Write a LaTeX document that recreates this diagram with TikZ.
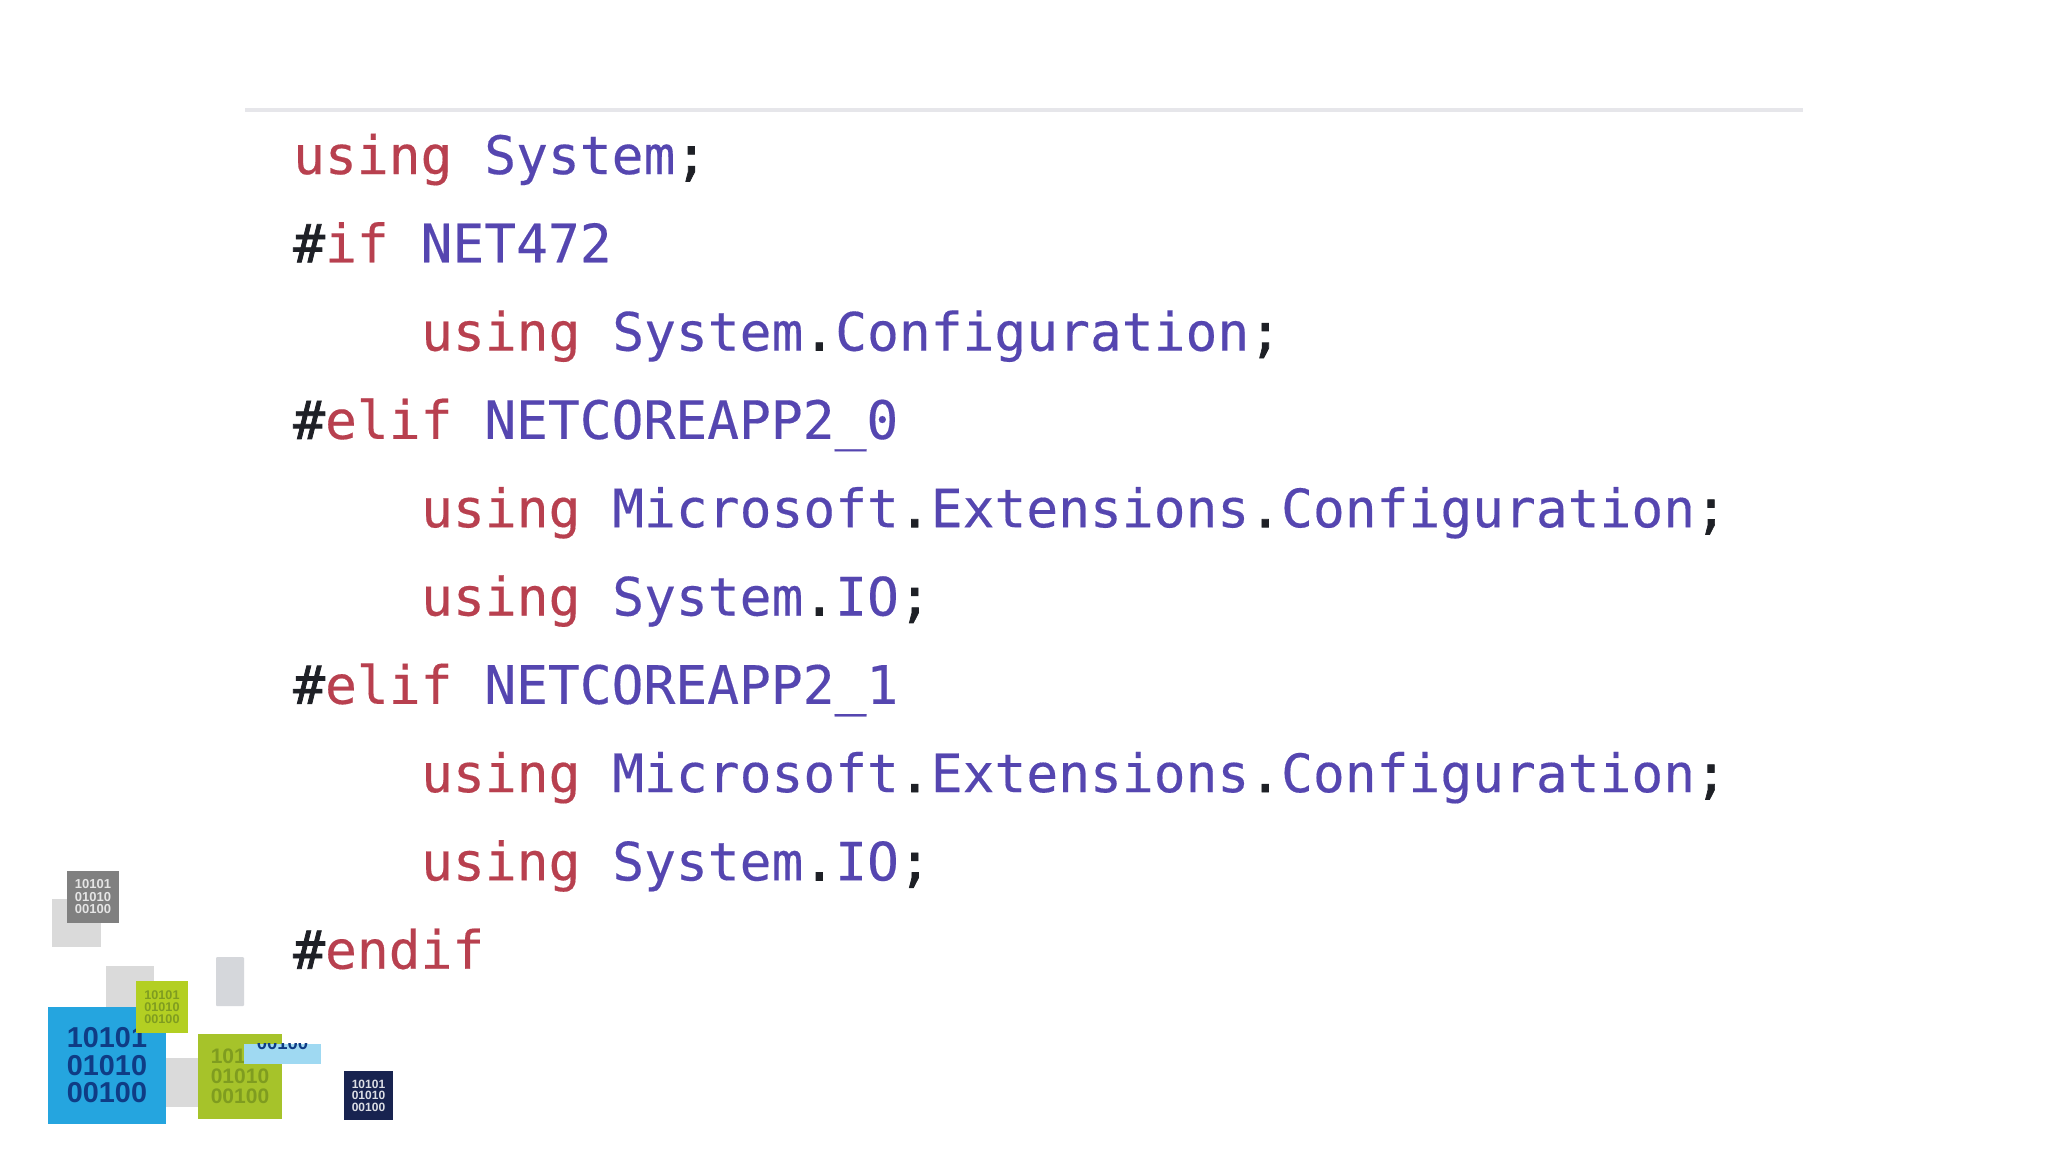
\documentclass[tikz,border=0pt]{standalone}
\usepackage{fontspec}
\setmonofont{DejaVu Sans Mono}[FakeBold=0.3]
\newfontfamily\punctfont{DejaVu Sans Mono}[FakeBold=1.4]
\setsansfont{Liberation Sans}
\usepackage{xcolor}

\definecolor{kwred}{HTML}{B8404F}
\definecolor{idblue}{HTML}{5546B0}
\definecolor{punct}{HTML}{1E2026}
\definecolor{rulegray}{HTML}{E6E6EA}
\definecolor{tilegray}{HTML}{DADADA}
\definecolor{tilecool}{HTML}{D5D7DB}
\definecolor{tiledark}{HTML}{808080}
\definecolor{tilelime}{HTML}{B3CF22}
\definecolor{tilegreen}{HTML}{A6C32A}
\definecolor{tileblue}{HTML}{25A5DF}
\definecolor{tilesky}{HTML}{9FD9F2}
\definecolor{tilenavy}{HTML}{182350}
\definecolor{digitnavy}{HTML}{0F3C85}
\definecolor{digitolive}{HTML}{7F9C20}

\newcommand{\kw}[1]{\textcolor{kwred}{#1}}
\newcommand{\id}[1]{\textcolor{idblue}{#1}}
\newcommand{\pn}[1]{{\punctfont #1}}
\newcommand{\bits}{10101\\01010\\00100}

\begin{document}
\begin{tikzpicture}[x=1pt,y=-1pt]
	
	\tikzstyle{codeline} = [anchor=base west,inner sep=0pt,text=punct,font=\fontsize{52.9}{60}\ttfamily]
	\tikzstyle{tile} = [rectangle,inner sep=0pt,align=center,minimum width=#1]
	\tikzstyle{blank} = [rectangle,inner sep=0pt]
	
	\useasboundingbox (0,0) rectangle (2048,1152);
	\fill[white] (0,0) rectangle (2048,1152);
	
	\coordinate (ruleL) at (245,110);
	\coordinate (ruleR) at (1803,110);
	\draw[rulegray,line width=3.5pt] (ruleL) -- (ruleR);
	
	\node[codeline] (l1) at (293,174) {\kw{using} \id{System}\pn{;}};
	\node[codeline] (l2) at (293,262.3) {\pn{\#}\kw{if} \id{NET472}};
	\node[codeline] (l3) at (421,350.6) {\kw{using} \id{System}\pn{.}\id{Configuration}\pn{;}};
	\node[codeline] (l4) at (293,438.9) {\pn{\#}\kw{elif} \id{NETCOREAPP2\_0}};
	\node[codeline] (l5) at (421,527.2) {\kw{using} \id{Microsoft}\pn{.}\id{Extensions}\pn{.}\id{Configuration}\pn{;}};
	\node[codeline] (l6) at (421,615.5) {\kw{using} \id{System}\pn{.}\id{IO}\pn{;}};
	\node[codeline] (l7) at (293,703.8) {\pn{\#}\kw{elif} \id{NETCOREAPP2\_1}};
	\node[codeline] (l8) at (421,792.1) {\kw{using} \id{Microsoft}\pn{.}\id{Extensions}\pn{.}\id{Configuration}\pn{;}};
	\node[codeline] (l9) at (421,880.4) {\kw{using} \id{System}\pn{.}\id{IO}\pn{;}};
	\node[codeline] (l10) at (293,968.7) {\pn{\#}\kw{endif}};
	
	\node[blank,fill=tilegray,minimum width=49pt,minimum height=48pt] (g1) at (76.5,923) {};
	\node[blank,fill=tilegray,minimum width=48pt,minimum height=48pt] (g2) at (130,990) {};
	\node[blank,fill=tilecool,minimum width=28pt,minimum height=49pt,rounded corners=1pt] (g3) at (230,981.5) {};
	\node[blank,fill=tilegray,minimum width=34pt,minimum height=49pt] (g4) at (182,1082.5) {};
	
	\node[tile=52pt,fill=tiledark,minimum height=52pt,text=white!90!black,
		font=\fontsize{13}{12.5}\selectfont\sffamily\bfseries] (dark) at (93,897) {\bits};
	\node[tile=118pt,fill=tileblue,minimum height=117pt,text=digitnavy,
		font=\fontsize{28.8}{27.5}\selectfont\sffamily\bfseries] (blue) at (107,1065.5) {\bits};
	\node[tile=52pt,fill=tilelime,minimum height=52pt,text=digitolive,
		font=\fontsize{12.6}{12}\selectfont\sffamily\bfseries] (lime) at (162,1007) {\bits};
	\node[tile=84pt,fill=tilegreen,minimum height=85pt,text=digitolive,
		font=\fontsize{21}{20}\selectfont\sffamily\bfseries] (green) at (240,1076.5) {\bits};
	\node[blank,fill=tilesky,minimum width=77pt,minimum height=20pt] (sky) at (282.5,1054) {};
	\begin{scope}
		\clip (sky.north west) rectangle (sky.south east);
		\node[tile=77pt,text=digitnavy,font=\fontsize{18.5}{17.5}\selectfont\sffamily\bfseries] (skybits) at (282.5,1026) {\bits};
	\end{scope}
	\node[tile=49pt,fill=tilenavy,minimum height=49pt,text=white!85!tilenavy,
		font=\fontsize{12}{11.5}\selectfont\sffamily\bfseries] (navy) at (368.5,1095.5) {\bits};

\end{tikzpicture}
\end{document}
